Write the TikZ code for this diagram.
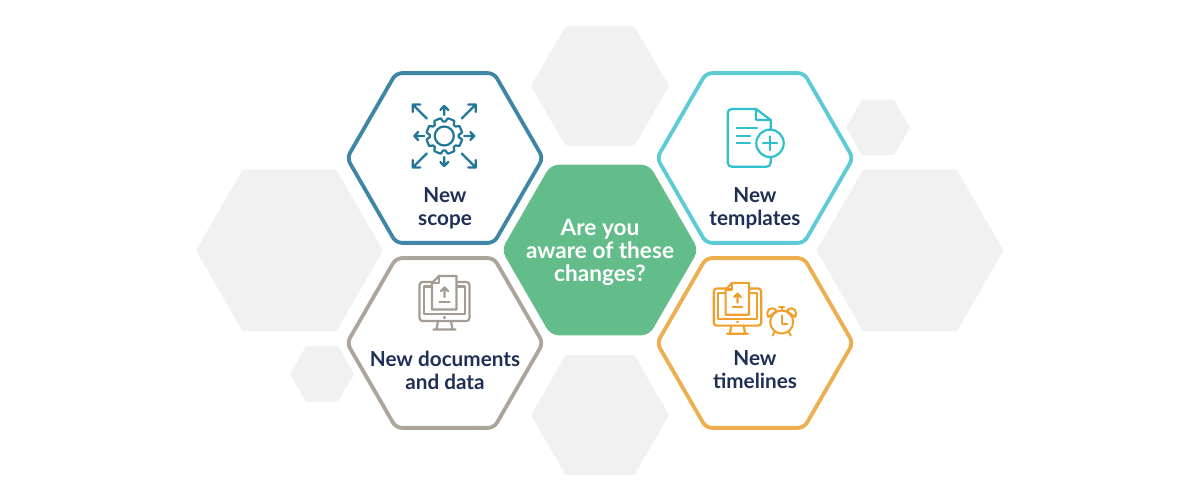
\documentclass[tikz,border=0pt]{standalone}
\usepackage{fontspec}
\setmainfont{Lato}
\usetikzlibrary{shapes.geometric}
\definecolor{bgrey}{HTML}{F1F1F1}
\definecolor{ink}{HTML}{1F2F55}
\definecolor{cscope}{HTML}{3F86A6}
\definecolor{ctempl}{HTML}{5CCBD6}
\definecolor{cdocs}{HTML}{ABA59C}
\definecolor{ctime}{HTML}{EDAE4F}
\definecolor{cgreen}{HTML}{62BD8A}
\definecolor{iscope}{HTML}{1F7696}
\definecolor{itempl}{HTML}{2FBFCE}
\definecolor{idocs}{HTML}{A49C92}
\definecolor{itime}{HTML}{F09F2C}
\tikzset{
  hexa/.style={regular polygon,regular polygon sides=6,inner sep=0pt,outer sep=0pt,minimum size=#1},
  ghost/.style={hexa=#1,fill=bgrey,rounded corners=1pt},
  ring/.style={hexa=196pt,draw=#1,line width=3.8pt,fill=white,rounded corners=6pt},
  core/.style={hexa=197pt,fill=cgreen,rounded corners=8pt},
  lbl/.style={align=center,inner sep=0pt,text=ink,font=\fontsize{20.7}{23}\selectfont\bfseries},
  lblw/.style={align=center,inner sep=0pt,text=white,font=\fontsize{22.6}{23}\selectfont\bfseries},
  ico/.style={line width=2.2pt,line cap=round,line join=round,draw=#1},
}
\newcommand{\monitoricon}[3]{%
 \begin{scope}[shift={(#1)},scale=#2,ico=#3]
  \draw[rounded corners=3pt] (-25,-21) rectangle (25,18);
  \draw (-20.5,-16.5) rectangle (20.5,11);
  \draw (-0.5,14.5) -- (0.5,14.5);
  \draw (-6.5,18) -- (-8,26.5) (6.5,18) -- (8,26.5) (-11,26.5) -- (11,26.5);
  \draw[fill=white] (-5.5,-27) -- (12,-27) -- (12,6.5) -- (-12.5,6.5) -- (-12.5,-20) -- cycle;
  \draw (-5.5,-27) -- (-5.5,-20) -- (-12.5,-20);
  \draw (0,-6) -- (0,-15.5) (-3.5,-12) -- (0,-15.5) -- (3.5,-12);
  \draw (-5,-1.2) -- (5,-1.2);
 \end{scope}}
\begin{document}
\begin{tikzpicture}[x=1pt,y=-1pt]
\useasboundingbox (0,0) rectangle (1200,500);
\fill[white] (0,0) rectangle (1200,500);
% background hexagons
\node[ghost=138pt] (g1) at (600,86) {};
\node[ghost=138pt] (g2) at (600,415) {};
\node[ghost=187pt] (g3) at (289.5,250.5) {};
\node[ghost=187pt] (g4) at (910,250.5) {};
\node[ghost=64pt] (g5) at (878,127.5) {};
\node[ghost=64pt] (g6) at (322,374) {};
% main hexagons
\node[ring=cscope] (scope) at (445,158) {};
\node[ring=ctempl] (templ) at (755,158) {};
\node[ring=cdocs] (docs) at (445,343) {};
\node[ring=ctime] (time) at (755,343) {};
\node[core] (center) at (600,250) {};
% labels
\node[lbl] (tscope) at (445,208.5) {New\\scope};
\node[lbl] (ttempl) at (755,208.5) {New\\templates};
\node[lbl] (tdocs) at (445,370) {New documents\\and data};
\node[lbl] (ttime) at (755,370) {New\\timelines};
\node[lblw] (tcenter) at (600,252.5) {Are you\\aware of these\\changes?};
% gear icon
\begin{scope}[shift={(444.3,136)},ico=iscope]
  \draw (0,0) circle (9.5);
  \draw plot[smooth cycle,tension=0.25] coordinates {
    (11.5:18) (33.5:18) (40:14.6) (50:14.6)
    (56.5:18) (78.5:18) (85:14.6) (95:14.6)
    (101.5:18) (123.5:18) (130:14.6) (140:14.6)
    (146.5:18) (168.5:18) (175:14.6) (185:14.6)
    (191.5:18) (213.5:18) (220:14.6) (230:14.6)
    (236.5:18) (258.5:18) (265:14.6) (275:14.6)
    (281.5:18) (303.5:18) (310:14.6) (320:14.6)
    (326.5:18) (348.5:18) (355:14.6) (5:14.6)};
  \draw (0,-21) -- (0,-30) (-4,-26) -- (0,-30) -- (4,-26);
  \draw (0,21) -- (0,30) (-4,26) -- (0,30) -- (4,26);
  \draw (-20,0) -- (-30,0) (-26,-4) -- (-30,0) -- (-26,4);
  \draw (20,0) -- (30,0) (26,-4) -- (30,0) -- (26,4);
  \draw (-17.5,-17.5) -- (-31.5,-31.5) (-31.5,-24) -- (-31.5,-31.5) -- (-24,-31.5);
  \draw (17.5,-17.5) -- (31.5,-31.5) (31.5,-24) -- (31.5,-31.5) -- (24,-31.5);
  \draw (-17.5,17.5) -- (-31.5,31.5) (-31.5,24) -- (-31.5,31.5) -- (-24,31.5);
  \draw (17.5,17.5) -- (31.5,31.5) (31.5,24) -- (31.5,31.5) -- (24,31.5);
\end{scope}
% template icon
\begin{scope}[ico=itempl]
  \draw (770.7,130) -- (770.7,120) -- (756,109) [rounded corners=4pt] -- (727.7,109) -- (727.7,166.7) -- (770.7,166.7) [sharp corners] -- (770.7,157);
  \draw[rounded corners=1pt] (756,109) -- (756,120) -- (770.7,120);
  \draw (736.7,128.3) -- (757,128.3) (736.7,135.7) -- (750,135.7) (736.7,143.3) -- (750,143.3);
  \draw (770,143.3) circle (13.7);
  \draw (770,136.3) -- (770,150.3) (763,143.3) -- (777,143.3);
\end{scope}
% monitor icons
\monitoricon{444.5,303}{1}{idocs}
\monitoricon{737.5,308.5}{0.95}{itime}
% clock
\begin{scope}[shift={(781.7,322)},ico=itime,line width=2pt]
  \draw (0,0) circle (11.5);
  \draw (0,-6.5) -- (0,2) -- (6,2);
  \draw (-7,9.5) -- (-9,13.5) (7,9.5) -- (9,13.5);
  \draw (-2.5,-15) -- (2.5,-15) (0,-15) -- (0,-11.5);
  \draw (-5,-11) -- (-13.5,-5) .. controls (-17,-10) and (-11,-18) .. (-5,-11) -- cycle;
  \draw (5,-11) -- (13.5,-5) .. controls (17,-10) and (11,-18) .. (5,-11) -- cycle;
\end{scope}
\end{tikzpicture}
\end{document}
